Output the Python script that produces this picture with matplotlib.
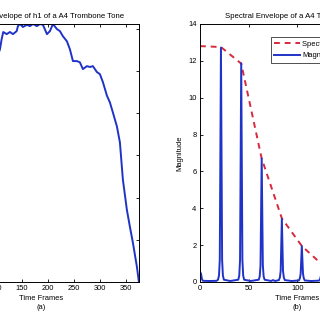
import matplotlib
matplotlib.use("Agg")
import matplotlib.pyplot as plt

plt.rcParams['font.family'] = ['Liberation Sans', 'DejaVu Sans']
plt.rcParams['font.size'] = 5.4

# (a) envelope of h1 over time frames (only the right part is visible in the crop)
h1_frames = [60, 80, 101.9, 107.7, 110.9, 114.0, 120.6, 126.9, 132.7, 139.8, 142.3, 146.1,
             151.9, 159.6, 165.4, 171.2, 178.8, 184.6, 190.4, 198.1, 203.8, 209.6,
             217.3, 223.1, 228.8, 236.5, 242.3, 248.1, 255.8, 261.5, 267.3, 275.0,
             280.8, 286.5, 294.2, 300.0, 305.8, 313.5, 319.2, 325.0, 332.7, 338.5,
             344.2, 351.9, 357.7, 363.5, 371.2, 375.0]
h1_env = [4.6, 5.0, 5.33, 5.52, 5.76, 5.93, 5.88, 5.93, 5.88, 5.95, 6.07, 6.12,
          6.05, 6.10, 6.07, 6.12, 6.07, 6.12, 6.10, 5.88, 5.95, 6.12,
          6.00, 5.95, 5.83, 5.71, 5.52, 5.24, 5.24, 5.21, 5.05, 5.12,
          5.10, 5.12, 4.98, 4.93, 4.74, 4.42, 4.26, 4.02, 3.69, 3.31,
          2.43, 1.71, 1.31, 0.93, 0.36, 0.0]

# (b) spectral envelope through harmonic peaks
env_x = [0, 21.5, 42.3, 63.3, 84.0, 104.5, 125.2, 146.0, 166.7, 187.5, 200]
env_y = [12.8, 12.75, 11.85, 6.7, 3.45, 1.95, 0.95, 0.6, 0.4, 0.25, 0.2]

# (b) magnitude spectrum samples
mag_x = [0, 1, 2, 3, 10, 17,
         18.5, 19.5, 20.3, 21.5, 22.7, 23.5, 24.5, 31,
         39.3, 40.3, 41.1, 42.3, 43.5, 44.3, 45.3, 52,
         60.3, 61.3, 62.1, 63.3, 64.5, 65.3, 66.3, 73, 75, 77,
         81.0, 82.0, 82.8, 84.0, 85.2, 86.0, 87.0, 94,
         101.5, 102.5, 103.3, 104.5, 105.7, 106.5, 107.5, 114,
         122.2, 123.2, 124.0, 125.2, 126.4, 127.2, 128.2, 135,
         143.0, 144.0, 144.8, 146.0, 147.2, 148.0, 149.0, 156,
         163.7, 164.7, 165.5, 166.7, 167.9, 168.7, 169.7, 177,
         184.5, 185.5, 186.3, 187.5, 188.7, 189.5, 190.5, 200]
mag_y = [0.55, 0.45, 0.15, 0.06, 0.05, 0.06,
         0.12, 0.35, 1.2, 12.72, 1.2, 0.35, 0.12, 0.05,
         0.12, 0.35, 1.2, 11.87, 1.2, 0.35, 0.12, 0.05,
         0.12, 0.3, 0.9, 6.7, 0.9, 0.3, 0.12, 0.05, 0.1, 0.05,
         0.1, 0.25, 0.6, 3.42, 0.6, 0.25, 0.1, 0.05,
         0.08, 0.2, 0.45, 1.95, 0.45, 0.2, 0.08, 0.05,
         0.07, 0.15, 0.3, 0.95, 0.3, 0.15, 0.07, 0.05,
         0.06, 0.12, 0.22, 0.6, 0.22, 0.12, 0.06, 0.05,
         0.06, 0.1, 0.18, 0.4, 0.18, 0.1, 0.06, 0.05,
         0.06, 0.08, 0.14, 0.25, 0.14, 0.08, 0.06, 0.05]

blue = '#1f33c8'
red = '#d62a3c'

fig = plt.figure(figsize=(3.2, 3.2), dpi=100)
ax1 = fig.add_axes([-0.175, 0.119, 0.609, 0.806])
ax2 = fig.add_axes([0.625, 0.119, 0.609, 0.806])

for ax in (ax1, ax2):
    ax.tick_params(direction='in', top=True, right=True, length=2.5, width=0.6, pad=2.5)
    for s in ax.spines.values():
        s.set_linewidth(0.7)

ax1.plot(h1_frames, h1_env, color=blue, lw=1.4)
ax1.set_xlim(0, 375)
ax1.set_ylim(0, 6.12)
ax1.set_xticks([0, 50, 100, 150, 200, 250, 300, 350])
ax1.set_yticks([0, 1, 2, 3, 4, 5, 6])
ax1.set_title('Spectral Envelope of h1 of a A4 Trombone Tone', pad=4, fontsize=5.55)
ax1.set_xlabel('Time Frames\n(a)', labelpad=2, linespacing=1.35)

ax2.plot(env_x, env_y, color=red, lw=1.4, ls=(0, (3, 2.5)), label='Spectral Envelope')
ax2.plot(mag_x, mag_y, color=blue, lw=1.4, label='Magnitude')
ax2.set_xlim(0, 200)
ax2.set_ylim(0, 14)
ax2.set_xticks([0, 50, 100, 150, 200])
ax2.set_yticks([0, 2, 4, 6, 8, 10, 12, 14])
ax2.set_title('Spectral Envelope of a A4 Trombone Tone', pad=4, fontsize=5.55)
ax2.set_xlabel('Time Frames\n(b)', labelpad=2, linespacing=1.35)
ax2.set_ylabel('Magnitude', labelpad=3)
leg = ax2.legend(loc='upper left', bbox_to_anchor=(0.364, 0.95), borderaxespad=0,
                 fancybox=False, edgecolor='black', handlelength=3.4, borderpad=0.45,
                 labelspacing=0.6, handletextpad=0.3)
leg.get_frame().set_linewidth(0.6)

fig.savefig('out.png', dpi=100)
